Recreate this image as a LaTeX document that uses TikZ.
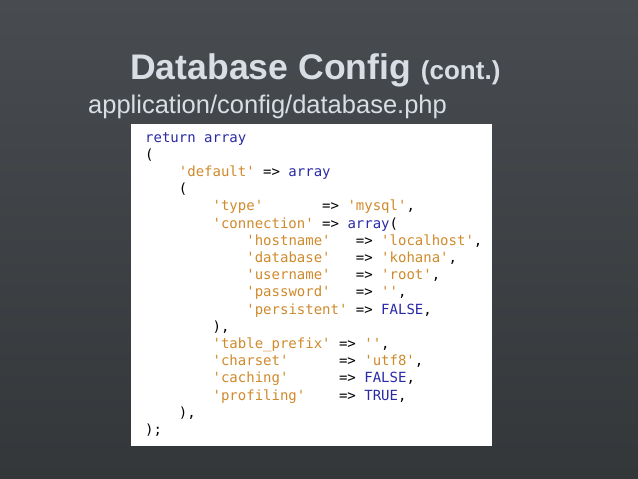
\documentclass[tikz,border=0pt]{standalone}
\usepackage{fontspec}
\setmainfont{Liberation Sans}
\newfontfamily\codefont{DejaVu Sans Mono}
\definecolor{bgc}{HTML}{33373A}
\definecolor{bgl}{HTML}{484C50}
\definecolor{kw}{HTML}{2A2AA8}
\definecolor{st}{HTML}{D08A2C}
\definecolor{tt}{HTML}{D8DEE4}
\newcommand{\K}[1]{\textcolor{kw}{#1}}
\newcommand{\St}[1]{\textcolor{st}{#1}}
\begin{document}
\begin{tikzpicture}[x=1pt,y=-1pt,
  cl/.style={anchor=base west,inner sep=0pt,font=\codefont\fontsize{14}{14}\selectfont}]
\useasboundingbox (0,0) rectangle (638,479);
\shade[top color=bgl,bottom color=bgc] (0,0) rectangle (638,479);
\node[anchor=base west,inner sep=0pt,text=tt,font=\bfseries\fontsize{35.6}{36}\selectfont] (t) at (130,79) {Database Config {\fontsize{26}{26}\selectfont (cont.)}};
\node[anchor=base west,inner sep=0pt,text=tt,font=\fontsize{25.5}{26}\selectfont] (s) at (88,113) {application/config/database.php};
\node[fill=white,minimum width=361pt,minimum height=322pt,inner sep=0pt,anchor=north west] (box) at (131,124) {};
\def\cw{8.43}
\node[cl] (l1) at (145,142) {\K{return array}};
\node[cl] (l2) at (145,159.2) {(};
\node[cl] (l3) at (145+4*\cw,176.4) {\St{'default'} => \K{array}};
\node[cl] (l4) at (145+4*\cw,193.6) {(};
\node[cl] (l5) at (145+8*\cw,210.8) {\St{'type'}~~~~~~~=> \St{'mysql'},};
\node[cl] (l6) at (145+8*\cw,228) {\St{'connection'} => \K{array}(};
\node[cl] (l7) at (145+12*\cw,245.2) {\St{'hostname'}~~~=> \St{'localhost'},};
\node[cl] (l8) at (145+12*\cw,262.4) {\St{'database'}~~~=> \St{'kohana'},};
\node[cl] (l9) at (145+12*\cw,279.6) {\St{'username'}~~~=> \St{'root'},};
\node[cl] (l10) at (145+12*\cw,296.8) {\St{'password'}~~~=> \St{''},};
\node[cl] (l11) at (145+12*\cw,314) {\St{'persistent'} => \K{FALSE},};
\node[cl] (l12) at (145+8*\cw,331.2) {),};
\node[cl] (l13) at (145+8*\cw,348.4) {\St{'table\_prefix'} => \St{''},};
\node[cl] (l14) at (145+8*\cw,365.6) {\St{'charset'}~~~~~~=> \St{'utf8'},};
\node[cl] (l15) at (145+8*\cw,382.8) {\St{'caching'}~~~~~~=> \K{FALSE},};
\node[cl] (l16) at (145+8*\cw,400) {\St{'profiling'}~~~~=> \K{TRUE},};
\node[cl] (l17) at (145+4*\cw,417.2) {),};
\node[cl] (l18) at (145,434.4) {);};
\end{tikzpicture}
\end{document}
